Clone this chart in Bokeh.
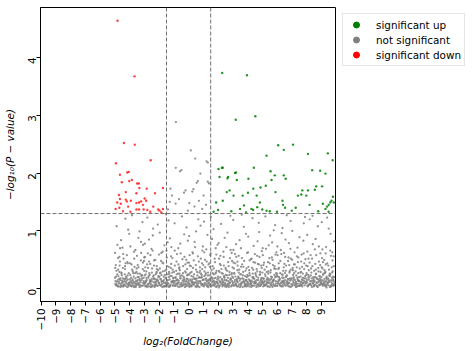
import math
from bokeh.plotting import figure
from bokeh.layouts import row
from bokeh.models import ColumnDataSource, Span, Legend, LegendItem, FixedTicker
from bokeh.embed import file_html
from bokeh.resources import INLINE

# ---------------- data ----------------
x_ticks = list(range(-10, 10))
x_tick_labels = {t: str(t).replace("-", "\u2212") for t in x_ticks}
y_ticks = [0, 1, 2, 3, 4]
y_tick_labels = {t: str(t) for t in y_ticks}
fc_threshold = 1.5
p_threshold = 1.3  # -log10(0.05)

series_names = ["significant up", "not significant", "significant down"]

down_pts = [(-4.82, 4.63), (-3.67, 3.67), (-4.39, 2.52), (-3.65, 2.49), (-4.93, 2.17), (-2.57, 2.22),
            (-4.66, 1.97), (-4.16, 2.01), (-4.06, 2.02), (-3.85, 1.88), (-4.03, 1.86), (-4.53, 1.84),
            (-3.49, 1.82), (-3.38, 1.82), (-3.34, 1.74), (-2.84, 1.73), (-2.28, 1.65), (-4.26, 1.67),
            (-3.54, 1.65), (-4.73, 1.62), (-4.66, 1.55), (-4.84, 1.49), (-4.60, 1.47), (-4.26, 1.54),
            (-4.19, 1.51), (-3.92, 1.52), (-3.54, 1.48), (-3.36, 1.49), (-3.22, 1.51), (-2.98, 1.56),
            (-2.88, 1.52), (-3.54, 1.37), (-3.36, 1.37), (-3.05, 1.37), (-2.80, 1.36), (-2.06, 1.37),
            (-1.97, 1.35), (-1.74, 1.38), (-1.74, 1.74), (-4.95, 1.38), (-4.70, 1.40), (-4.10, 1.42),
            (-3.95, 1.33), (-2.40, 1.42), (-1.85, 1.32), (-4.45, 1.34), (-3.10, 1.45), (-2.60, 1.33)]

up_pts = [(2.28, 3.73), (3.96, 3.69), (3.20, 2.92), (4.53, 2.98), (2.03, 2.07), (2.26, 2.09), (2.32, 2.09),
          (2.10, 1.93), (2.64, 1.91), (2.68, 1.93), (3.15, 2.00), (3.22, 2.01), (1.87, 1.49), (2.32, 1.52),
          (2.59, 1.67), (2.78, 1.70), (3.05, 1.61), (3.27, 1.88), (3.49, 1.38), (3.76, 1.44), (3.67, 1.61),
          (4.06, 1.90), (4.03, 1.66), (4.39, 1.73), (4.43, 2.09), (4.62, 1.61), (4.66, 1.41), (4.84, 1.49),
          (4.88, 1.75), (5.29, 2.30), (5.24, 1.78), (5.56, 2.03), (5.63, 1.88), (5.29, 1.35), (5.51, 1.34),
          (5.85, 1.96), (5.90, 1.67), (6.08, 2.48), (6.46, 2.40), (6.46, 1.96), (6.59, 1.90), (6.37, 1.52),
          (6.41, 1.45), (6.55, 1.40), (7.09, 2.49), (7.27, 1.40), (7.42, 1.61), (7.65, 1.63), (7.72, 1.70),
          (7.99, 1.61), (8.10, 2.33), (8.10, 1.70), (8.21, 1.45), (8.39, 2.05), (8.57, 1.71), (8.66, 1.77),
          (8.93, 2.04), (9.06, 1.77), (9.11, 1.47), (9.29, 1.38), (9.40, 1.42), (9.51, 1.45), (9.62, 1.49),
          (9.29, 1.99), (9.45, 2.34), (9.78, 2.22), (9.80, 1.59), (9.70, 1.52), (9.86, 1.49), (4.27, 1.38),
          (4.38, 1.36), (1.70, 1.33), (2.00, 1.36), (2.90, 1.34), (3.90, 1.32), (6.00, 1.33), (7.00, 1.35),
          (8.80, 1.34), (9.50, 1.33), (5.00, 1.37)]

ns_mid_pts = [(-0.86, 2.88), (0.15, 2.39), (0.45, 2.25), (1.22, 2.20), (1.31, 2.18), (-0.87, 2.09),
              (-0.58, 2.03), (-0.49, 2.05), (0.80, 1.99), (0.55, 1.83), (0.63, 1.86), (0.33, 1.72),
              (0.25, 1.68), (1.30, 1.85), (1.38, 1.82), (-1.23, 1.73), (-1.13, 1.61), (-1.28, 1.50),
              (-0.88, 1.47), (-0.65, 1.55), (-0.31, 1.66), (-0.21, 1.70), (1.02, 1.61), (0.05, 1.48),
              (0.40, 1.42), (0.92, 1.38), (-0.05, 1.35), (1.18, 1.45), (-1.40, 1.37), (0.70, 1.52)]

ns_pts = [
    (-4.97,0.08),(-4.91,0.21),(-4.85,0.05),(-4.78,0.33),(-4.72,0.12),(-4.66,0.47),(-4.61,0.09),(-4.55,0.26),
    (-4.49,0.71),(-4.43,0.04),(-4.38,0.17),(-4.31,0.39),(-4.26,0.11),(-4.19,0.58),(-4.14,0.23),(-4.08,0.06),
    (-4.03,0.95),(-4.99,0.62),(-4.88,1.08),(-4.81,0.15),(-4.74,0.04),(-4.69,0.29),(-4.58,0.84),(-4.52,0.14),
    (-4.46,0.36),(-4.35,0.07),(-4.29,1.21),(-4.22,0.19),(-4.12,0.44),(-4.05,0.10),(-4.94,0.41),(-4.63,0.18),
    (-4.41,0.52),(-4.17,0.03),(-4.83,0.76),(-4.57,0.06),(-4.33,0.25),(-4.10,1.02),(-4.96,0.13),(-4.70,0.55),
    (-3.98,0.16),(-3.93,0.05),(-3.87,0.42),(-3.81,0.09),(-3.76,0.27),(-3.70,0.64),(-3.64,0.12),(-3.59,0.03),
    (-3.53,0.35),(-3.47,0.20),(-3.41,0.88),(-3.36,0.07),(-3.30,0.14),(-3.24,0.49),(-3.18,0.24),(-3.13,1.15),
    (-3.07,0.06),(-3.02,0.31),(-3.95,0.73),(-3.90,0.19),(-3.84,1.27),(-3.73,0.11),(-3.67,0.38),(-3.56,0.08),
    (-3.50,0.57),(-3.44,0.15),(-3.33,0.99),(-3.27,0.04),(-3.21,0.22),(-3.10,0.45),(-3.04,0.13),(-3.79,0.30),
    (-3.61,0.67),(-3.39,0.10),(-3.15,0.18),(-3.86,0.05),(-3.46,0.26),(-3.23,0.81),(-3.68,0.04),(-3.01,0.54),
    (-2.99,0.09),(-2.94,0.37),(-2.88,0.14),(-2.83,0.05),(-2.77,0.61),(-2.71,0.22),(-2.66,0.10),(-2.60,0.43),
    (-2.55,0.03),(-2.49,0.28),(-2.43,0.92),(-2.38,0.17),(-2.32,0.06),(-2.26,0.50),(-2.21,0.12),(-2.15,0.34),
    (-2.09,1.11),(-2.04,0.20),(-2.97,0.78),(-2.91,0.25),(-2.80,1.23),(-2.74,0.08),(-2.63,0.15),(-2.52,0.69),
    (-2.46,0.04),(-2.35,0.40),(-2.29,0.11),(-2.18,0.27),(-2.12,0.05),(-2.01,0.59),(-2.86,0.19),(-2.68,0.47),
    (-2.57,0.13),(-2.41,1.04),(-2.24,0.07),(-2.07,0.32),(-2.93,0.04),(-2.69,0.85),(-2.36,0.23),(-2.14,0.16),
    (-1.98,0.21),(-1.92,0.06),(-1.87,0.48),(-1.81,0.13),(-1.75,0.30),(-1.70,0.04),(-1.64,0.75),(-1.58,0.18),
    (-1.53,0.09),(-1.47,0.39),(-1.41,0.15),(-1.36,1.18),(-1.30,0.26),(-1.24,0.05),(-1.19,0.56),(-1.13,0.11),
    (-1.08,0.33),(-1.02,0.08),(-1.96,0.97),(-1.89,0.16),(-1.78,0.03),(-1.72,0.44),(-1.61,0.24),(-1.50,0.66),
    (-1.44,0.07),(-1.33,0.29),(-1.27,0.87),(-1.16,0.12),(-1.10,0.53),(-1.04,0.19),(-1.85,0.62),(-1.67,0.10),
    (-1.55,1.29),(-1.38,0.04),(-1.21,0.36),(-1.06,0.14),(-1.94,0.27),(-1.59,0.05),(-1.42,0.80),(-1.15,0.22),
    (-0.98,0.11),(-0.93,0.40),(-0.87,0.06),(-0.81,0.25),(-0.76,0.15),(-0.70,0.70),(-0.64,0.03),(-0.59,0.32),
    (-0.53,0.18),(-0.47,0.09),(-0.42,0.51),(-0.36,0.21),(-0.30,0.94),(-0.25,0.07),(-0.19,0.28),(-0.13,0.13),
    (-0.08,0.45),(-0.02,0.05),(-0.95,1.13),(-0.90,0.19),(-0.79,0.60),(-0.73,0.10),(-0.62,0.37),(-0.51,0.04),
    (-0.45,1.25),(-0.34,0.16),(-0.28,0.55),(-0.17,0.08),(-0.11,0.23),(-0.05,0.83),(-0.84,0.31),(-0.67,0.14),
    (-0.56,0.78),(-0.39,0.06),(-0.22,0.42),(-0.07,0.17),(-0.96,0.05),(-0.61,0.26),(-0.33,0.12),(-0.14,1.06),
    (0.02,0.14),(0.07,0.58),(0.13,0.05),(0.19,0.22),(0.24,0.10),(0.30,0.36),(0.36,0.07),(0.41,0.81),
    (0.47,0.17),(0.53,0.03),(0.58,0.29),(0.64,0.12),(0.70,0.47),(0.75,0.20),(0.81,1.09),(0.87,0.06),
    (0.92,0.34),(0.98,0.15),(0.04,0.91),(0.10,0.27),(0.21,0.04),(0.27,0.63),(0.38,0.18),(0.49,0.41),
    (0.55,0.09),(0.66,1.20),(0.72,0.13),(0.83,0.52),(0.89,0.24),(0.95,0.08),(0.15,0.39),(0.33,0.11),
    (0.44,0.72),(0.61,0.05),(0.78,0.31),(0.94,0.66),(0.06,0.03),(0.26,0.16),(0.51,0.99),(0.85,0.19),
    (1.03,0.07),(1.08,0.30),(1.14,0.16),(1.20,0.68),(1.25,0.04),(1.31,0.23),(1.37,0.11),(1.42,0.44),
    (1.48,0.08),(1.54,0.19),(1.59,0.86),(1.65,0.13),(1.71,0.35),(1.76,0.05),(1.82,0.26),(1.88,0.59),
    (1.93,0.10),(1.99,0.21),(1.05,1.16),(1.11,0.50),(1.22,0.14),(1.34,0.03),(1.45,0.38),(1.51,1.24),
    (1.62,0.17),(1.68,0.07),(1.79,0.46),(1.85,0.12),(1.96,0.76),(1.17,0.27),(1.28,0.93),(1.40,0.06),
    (1.57,0.32),(1.74,0.18),(1.91,0.04),(1.00,0.41),(1.33,0.15),(1.50,0.61),(1.69,1.03),(1.86,0.28),
    (2.02,0.18),(2.08,0.05),(2.13,0.43),(2.19,0.12),(2.25,0.27),(2.30,0.08),(2.36,0.64),(2.42,0.20),
    (2.47,0.04),(2.53,0.33),(2.59,0.14),(2.64,0.97),(2.70,0.09),(2.76,0.24),(2.81,0.53),(2.87,0.16),
    (2.93,0.06),(2.98,0.37),(2.04,0.79),(2.10,0.29),(2.21,1.12),(2.33,0.11),(2.39,0.40),(2.50,0.07),
    (2.56,0.72),(2.67,0.19),(2.73,0.03),(2.84,1.26),(2.90,0.25),(2.96,0.13),(2.16,0.57),(2.28,0.15),
    (2.45,0.88),(2.62,0.31),(2.79,0.10),(2.95,0.48),(2.06,0.02),(2.40,0.22),(2.58,0.06),(2.85,0.67),
    (3.01,0.10),(3.07,0.35),(3.12,0.06),(3.18,0.21),(3.24,0.55),(3.29,0.13),(3.35,0.04),(3.41,0.28),
    (3.46,0.84),(3.52,0.17),(3.58,0.08),(3.63,0.42),(3.69,0.23),(3.75,1.07),(3.80,0.05),(3.86,0.31),
    (3.92,0.15),(3.97,0.62),(3.03,1.19),(3.09,0.26),(3.20,0.09),(3.32,0.47),(3.38,0.19),(3.49,0.03),
    (3.55,0.70),(3.66,0.12),(3.72,0.38),(3.83,0.07),(3.89,0.95),(3.95,0.20),(3.15,0.60),(3.27,0.16),
    (3.44,0.33),(3.61,1.28),(3.78,0.11),(3.94,0.04),(3.05,0.45),(3.22,0.77),(3.57,0.25),(3.85,0.14),
    (4.03,0.22),(4.08,0.08),(4.14,0.49),(4.20,0.14),(4.25,0.03),(4.31,0.36),(4.37,0.18),(4.42,0.74),
    (4.48,0.10),(4.54,0.27),(4.59,0.06),(4.65,0.57),(4.71,0.15),(4.76,1.14),(4.82,0.24),(4.88,0.05),
    (4.93,0.40),(4.99,0.12),(4.05,0.90),(4.11,0.32),(4.22,0.07),(4.34,1.22),(4.40,0.20),(4.51,0.45),
    (4.57,0.11),(4.68,0.82),(4.74,0.04),(4.85,0.29),(4.91,0.16),(4.97,0.65),(4.17,0.13),(4.28,0.52),
    (4.45,0.09),(4.62,0.34),(4.79,0.98),(4.95,0.19),(4.01,0.05),(4.35,0.26),(4.70,0.43),(4.87,0.08),
    (5.02,0.13),(5.08,0.41),(5.13,0.07),(5.19,0.25),(5.25,0.69),(5.30,0.16),(5.36,0.04),(5.42,0.30),
    (5.47,0.11),(5.53,0.92),(5.59,0.21),(5.64,0.06),(5.70,0.50),(5.76,0.14),(5.81,0.35),(5.87,1.10),
    (5.93,0.09),(5.98,0.23),(5.04,0.58),(5.10,0.18),(5.21,1.25),(5.33,0.10),(5.39,0.46),(5.50,0.03),
    (5.56,0.28),(5.67,0.80),(5.73,0.12),(5.84,0.39),(5.90,0.05),(5.96,0.63),(5.16,0.33),(5.27,0.08),
    (5.44,0.75),(5.61,0.17),(5.78,1.01),(5.94,0.27),(5.06,0.04),(5.40,0.15),(5.65,0.54),(5.88,0.20),
    (6.01,0.26),(6.07,0.09),(6.12,0.44),(6.18,0.15),(6.24,0.05),(6.29,0.60),(6.35,0.19),(6.41,0.11),
    (6.46,0.37),(6.52,0.07),(6.58,0.85),(6.63,0.22),(6.69,0.13),(6.75,0.48),(6.80,0.04),(6.86,0.30),
    (6.92,1.17),(6.97,0.16),(6.03,0.73),(6.09,0.34),(6.20,0.06),(6.32,0.96),(6.38,0.24),(6.49,0.12),
    (6.55,0.55),(6.66,1.27),(6.72,0.08),(6.83,0.41),(6.89,0.18),(6.95,0.03),(6.14,0.20),(6.26,0.67),
    (6.43,0.14),(6.60,0.31),(6.77,0.10),(6.94,0.52),(6.05,0.12),(6.37,1.05),(6.54,0.27),(6.81,0.79),
    (7.02,0.07),(7.08,0.32),(7.14,0.17),(7.19,0.63),(7.25,0.10),(7.31,0.23),(7.36,0.04),(7.42,0.46),
    (7.48,0.14),(7.53,0.89),(7.59,0.28),(7.65,0.06),(7.70,0.38),(7.76,0.19),(7.82,1.13),(7.87,0.11),
    (7.93,0.51),(7.99,0.24),(7.04,1.00),(7.10,0.13),(7.21,0.42),(7.33,0.08),(7.39,0.71),(7.50,0.20),
    (7.56,0.05),(7.67,0.59),(7.73,0.15),(7.84,0.34),(7.90,1.24),(7.96,0.09),(7.16,0.27),(7.28,0.03),
    (7.45,0.54),(7.62,0.12),(7.79,0.83),(7.95,0.18),(7.06,0.36),(7.40,0.16),(7.68,0.06),(7.85,0.44),
    (8.03,0.15),(8.09,0.06),(8.14,0.52),(8.20,0.21),(8.26,0.09),(8.31,0.35),(8.37,0.03),(8.43,0.77),
    (8.48,0.17),(8.54,0.12),(8.60,0.43),(8.65,0.26),(8.71,0.05),(8.77,1.08),(8.82,0.30),(8.88,0.14),
    (8.94,0.61),(8.99,0.08),(8.05,0.93),(8.11,0.24),(8.22,1.20),(8.34,0.13),(8.40,0.39),(8.51,0.06),
    (8.57,0.68),(8.68,0.19),(8.74,0.04),(8.85,0.47),(8.91,0.22),(8.97,0.11),(8.16,0.32),(8.28,0.58),
    (8.45,0.10),(8.62,0.86),(8.79,0.16),(8.96,0.29),(8.07,0.04),(8.41,1.26),(8.58,0.20),(8.86,0.07),
    (9.02,0.20),(9.07,0.08),(9.12,0.46),(9.17,0.13),(9.23,0.32),(9.28,0.05),(9.33,0.72),(9.38,0.17),
    (9.43,0.10),(9.48,0.40),(9.54,0.23),(9.59,0.03),(9.64,0.95),(9.69,0.15),(9.74,0.28),(9.79,0.07),
    (9.84,0.56),(9.89,0.12),(9.04,1.15),(9.09,0.35),(9.19,0.06),(9.30,0.61),(9.35,0.19),(9.46,0.11),
    (9.51,1.04),(9.62,0.25),(9.67,0.04),(9.77,0.49),(9.82,0.16),(9.87,0.82),(9.14,0.09),(9.25,0.27),
    (9.40,1.23),(9.56,0.14),(9.71,0.37),(9.86,0.06),(9.05,0.53),(9.36,0.02),(9.61,0.66),(9.80,0.21),
]

ns_low_pts = [
    (-4.99,0.19),(-4.93,0.06),(-4.90,0.31),(-4.86,0.12),(-4.80,0.04),(-4.77,0.22),(-4.73,0.09),(-4.68,0.40),
    (-4.64,0.15),(-4.60,0.05),(-4.56,0.28),(-4.51,0.10),(-4.47,0.18),(-4.44,0.60),(-4.40,0.07),(-4.36,0.13),
    (-4.32,0.34),(-4.27,0.05),(-4.24,0.21),(-4.20,0.09),(-4.16,0.46),(-4.13,0.16),(-4.09,0.04),(-4.06,0.27),
    (-4.02,0.11),(-4.98,0.36),(-4.89,0.08),(-4.79,0.53),(-4.71,0.17),(-4.62,0.03),(-4.53,0.23),(-4.45,0.12),
    (-4.37,0.06),(-4.28,0.44),(-4.21,0.14),(-4.11,0.08),(-4.84,0.25),(-4.65,0.70),(-4.48,0.04),(-4.30,0.17),
    (-3.99,0.07),(-3.96,0.24),(-3.91,0.13),(-3.88,0.04),(-3.83,0.33),(-3.80,0.16),(-3.77,0.06),(-3.72,0.21),
    (-3.69,0.52),(-3.65,0.09),(-3.62,0.18),(-3.57,0.05),(-3.54,0.29),(-3.51,0.12),(-3.45,0.41),(-3.42,0.07),
    (-3.38,0.20),(-3.34,0.03),(-3.31,0.26),(-3.26,0.11),(-3.22,0.62),(-3.19,0.15),(-3.16,0.05),(-3.11,0.34),
    (-3.08,0.10),(-3.05,0.19),(-3.03,0.48),(-3.97,0.44),(-3.89,0.10),(-3.78,0.14),(-3.71,0.03),(-3.63,0.27),
    (-3.55,0.14),(-3.48,0.08),(-3.40,0.37),(-3.32,0.17),(-3.25,0.06),(-3.17,0.23),(-3.09,0.76),(-3.00,0.09),
    (-2.98,0.23),(-2.95,0.10),(-2.92,0.05),(-2.87,0.30),(-2.84,0.15),(-2.81,0.42),(-2.78,0.07),(-2.73,0.19),
    (-2.70,0.04),(-2.67,0.27),(-2.62,0.12),(-2.59,0.58),(-2.56,0.08),(-2.51,0.17),(-2.48,0.35),(-2.45,0.06),
    (-2.42,0.21),(-2.37,0.11),(-2.34,0.49),(-2.31,0.03),(-2.27,0.16),(-2.23,0.25),(-2.20,0.08),(-2.16,0.39),
    (-2.13,0.13),(-2.10,0.05),(-2.05,0.22),(-2.02,0.10),(-2.96,0.55),(-2.89,0.12),(-2.82,0.03),(-2.75,0.36),
    (-2.64,0.24),(-2.58,0.04),(-2.50,0.13),(-2.44,0.66),(-2.33,0.18),(-2.25,0.05),(-2.17,0.29),(-2.08,0.14),
    (-1.99,0.10),(-1.95,0.35),(-1.91,0.17),(-1.88,0.05),(-1.84,0.24),(-1.80,0.08),(-1.77,0.45),(-1.73,0.13),
    (-1.69,0.21),(-1.66,0.04),(-1.62,0.31),(-1.57,0.11),(-1.54,0.19),(-1.51,0.06),(-1.48,0.54),(-1.45,0.14),
    (-1.40,0.25),(-1.37,0.09),(-1.34,0.38),(-1.31,0.03),(-1.28,0.16),(-1.25,0.22),(-1.22,0.07),(-1.18,0.43),
    (-1.14,0.12),(-1.11,0.28),(-1.07,0.05),(-1.03,0.18),(-1.97,0.07),(-1.90,0.28),(-1.83,0.12),(-1.76,0.64),
    (-1.68,0.15),(-1.60,0.04),(-1.52,0.33),(-1.43,0.10),(-1.35,0.20),(-1.26,0.05),(-1.17,0.72),(-1.09,0.13),
    (-0.99,0.29),(-0.96,0.13),(-0.92,0.05),(-0.88,0.20),(-0.85,0.09),(-0.82,0.47),(-0.78,0.16),(-0.74,0.04),
    (-0.71,0.26),(-0.68,0.11),(-0.65,0.35),(-0.60,0.07),(-0.57,0.18),(-0.54,0.61),(-0.50,0.10),(-0.46,0.23),
    (-0.43,0.05),(-0.40,0.14),(-0.37,0.39),(-0.32,0.08),(-0.29,0.19),(-0.26,0.03),(-0.23,0.30),(-0.20,0.12),
    (-0.16,0.50),(-0.12,0.17),(-0.09,0.06),(-0.04,0.25),(-0.01,0.11),(-0.94,0.66),(-0.86,0.14),(-0.77,0.08),
    (-0.69,0.42),(-0.58,0.22),(-0.48,0.06),(-0.38,0.27),(-0.27,0.15),(-0.18,0.04),(-0.10,0.34),(-0.03,0.09),
    (0.01,0.24),(0.05,0.09),(0.09,0.40),(0.12,0.16),(0.16,0.05),(0.20,0.29),(0.23,0.12),(0.28,0.07),
    (0.31,0.21),(0.35,0.49),(0.39,0.10),(0.42,0.17),(0.46,0.04),(0.50,0.33),(0.54,0.14),(0.57,0.06),
    (0.60,0.23),(0.63,0.56),(0.67,0.09),(0.71,0.19),(0.74,0.03),(0.77,0.37),(0.80,0.13),(0.84,0.26),
    (0.88,0.08),(0.91,0.44),(0.96,0.15),(0.99,0.05),(0.03,0.45),(0.11,0.07),(0.18,0.13),(0.29,0.61),
    (0.37,0.25),(0.48,0.11),(0.56,0.18),(0.65,0.04),(0.73,0.28),(0.82,0.10),(0.90,0.20),(0.97,0.73),
    (1.01,0.16),(1.04,0.04),(1.07,0.22),(1.10,0.10),(1.13,0.37),(1.16,0.07),(1.19,0.18),(1.23,0.47),
    (1.26,0.12),(1.30,0.05),(1.32,0.28),(1.36,0.15),(1.39,0.09),(1.43,0.23),(1.46,0.58),(1.49,0.14),
    (1.53,0.04),(1.56,0.20),(1.60,0.11),(1.63,0.39),(1.66,0.06),(1.70,0.25),(1.73,0.13),(1.77,0.52),
    (1.80,0.08),(1.83,0.19),(1.87,0.03),(1.90,0.31),(1.94,0.12),(1.98,0.06),(1.06,0.63),(1.15,0.24),
    (1.24,0.08),(1.35,0.42),(1.44,0.17),(1.55,0.05),(1.64,0.27),(1.75,0.10),(1.84,0.70),(1.95,0.16),
    (2.01,0.09),(2.05,0.31),(2.09,0.14),(2.12,0.05),(2.15,0.20),(2.18,0.41),(2.22,0.08),(2.26,0.17),
    (2.29,0.04),(2.32,0.26),(2.35,0.12),(2.38,0.55),(2.41,0.07),(2.44,0.19),(2.48,0.10),(2.51,0.36),
    (2.55,0.15),(2.57,0.03),(2.61,0.23),(2.65,0.08),(2.68,0.46),(2.71,0.13),(2.75,0.06),(2.78,0.29),
    (2.82,0.11),(2.86,0.18),(2.89,0.04),(2.92,0.62),(2.97,0.21),(2.99,0.07),(2.07,0.52),(2.14,0.11),
    (2.23,0.34),(2.34,0.06),(2.43,0.15),(2.52,0.24),(2.63,0.05),(2.72,0.39),(2.83,0.16),(2.94,0.27),
    (3.02,0.19),(3.06,0.05),(3.10,0.27),(3.13,0.12),(3.17,0.44),(3.21,0.08),(3.25,0.16),(3.28,0.04),
    (3.31,0.32),(3.34,0.11),(3.37,0.21),(3.40,0.57),(3.43,0.07),(3.47,0.14),(3.50,0.25),(3.54,0.05),
    (3.56,0.38),(3.60,0.10),(3.64,0.18),(3.67,0.03),(3.70,0.29),(3.74,0.13),(3.77,0.48),(3.81,0.09),
    (3.84,0.22),(3.87,0.06),(3.91,0.15),(3.93,0.35),(3.96,0.08),(3.99,0.24),(3.04,0.67),(3.14,0.15),
    (3.23,0.06),(3.33,0.40),(3.42,0.18),(3.53,0.09),(3.62,0.53),(3.73,0.17),(3.82,0.04),(3.98,0.12),
    (4.02,0.11),(4.06,0.38),(4.09,0.16),(4.12,0.04),(4.16,0.23),(4.19,0.09),(4.23,0.51),(4.27,0.14),
    (4.30,0.06),(4.33,0.20),(4.36,0.12),(4.39,0.33),(4.43,0.05),(4.46,0.17),(4.50,0.60),(4.53,0.10),
    (4.56,0.24),(4.60,0.03),(4.63,0.15),(4.66,0.30),(4.69,0.08),(4.73,0.19),(4.77,0.42),(4.80,0.11),
    (4.83,0.05),(4.86,0.25),(4.89,0.14),(4.92,0.07),(4.96,0.36),(4.98,0.18),(4.04,0.63),(4.13,0.27),
    (4.24,0.10),(4.32,0.05),(4.41,0.46),(4.52,0.13),(4.61,0.21),(4.72,0.07),(4.81,0.55),(4.94,0.10),
    (5.01,0.28),(5.05,0.09),(5.09,0.17),(5.12,0.45),(5.15,0.05),(5.18,0.13),(5.22,0.22),(5.26,0.07),
    (5.29,0.38),(5.32,0.12),(5.35,0.19),(5.38,0.04),(5.41,0.26),(5.45,0.10),(5.48,0.53),(5.52,0.15),
    (5.55,0.06),(5.58,0.32),(5.62,0.11),(5.66,0.20),(5.69,0.03),(5.72,0.41),(5.75,0.08),(5.79,0.16),
    (5.82,0.24),(5.85,0.06),(5.89,0.59),(5.92,0.13),(5.95,0.21),(5.99,0.05),(5.03,0.70),(5.11,0.11),
    (5.20,0.06),(5.31,0.29),(5.43,0.17),(5.51,0.44),(5.60,0.08),(5.71,0.14),(5.80,0.05),(5.91,0.34),
    (6.02,0.05),(6.06,0.21),(6.10,0.12),(6.13,0.36),(6.16,0.08),(6.19,0.17),(6.23,0.48),(6.27,0.10),
    (6.30,0.04),(6.33,0.25),(6.36,0.13),(6.39,0.07),(6.42,0.31),(6.45,0.19),(6.48,0.62),(6.51,0.09),
    (6.56,0.15),(6.59,0.05),(6.62,0.40),(6.65,0.11),(6.68,0.23),(6.71,0.06),(6.74,0.17),(6.78,0.54),
    (6.82,0.10),(6.84,0.28),(6.87,0.04),(6.90,0.14),(6.93,0.33),(6.98,0.08),(6.04,0.58),(6.11,0.15),
    (6.22,0.27),(6.31,0.11),(6.40,0.04),(6.50,0.43),(6.61,0.20),(6.70,0.09),(6.79,0.16),(6.91,0.69),
    (7.01,0.18),(7.05,0.05),(7.09,0.24),(7.12,0.10),(7.15,0.42),(7.18,0.07),(7.22,0.15),(7.26,0.30),
    (7.29,0.12),(7.32,0.04),(7.35,0.56),(7.38,0.19),(7.41,0.09),(7.44,0.27),(7.47,0.05),(7.51,0.13),
    (7.54,0.35),(7.57,0.08),(7.61,0.21),(7.64,0.47),(7.66,0.11),(7.69,0.16),(7.72,0.04),(7.75,0.26),
    (7.78,0.10),(7.81,0.61),(7.83,0.14),(7.88,0.06),(7.91,0.22),(7.97,0.12),(7.03,0.50),(7.13,0.20),
    (7.23,0.06),(7.34,0.37),(7.43,0.14),(7.52,0.05),(7.63,0.29),(7.74,0.09),(7.86,0.18),(7.98,0.40),
    (8.01,0.27),(8.04,0.11),(8.08,0.39),(8.12,0.05),(8.15,0.16),(8.18,0.08),(8.21,0.45),(8.25,0.13),
    (8.29,0.23),(8.32,0.06),(8.35,0.18),(8.38,0.52),(8.42,0.09),(8.46,0.20),(8.49,0.04),(8.52,0.31),
    (8.55,0.14),(8.59,0.07),(8.63,0.25),(8.66,0.58),(8.69,0.10),(8.72,0.17),(8.76,0.03),(8.80,0.36),
    (8.83,0.12),(8.87,0.22),(8.90,0.06),(8.93,0.41),(8.95,0.15),(8.98,0.09),(8.06,0.64),(8.13,0.19),
    (8.24,0.07),(8.33,0.28),(8.44,0.14),(8.53,0.05),(8.64,0.33),(8.73,0.11),(8.84,0.73),(8.92,0.18),
    (9.01,0.12),(9.03,0.37),(9.06,0.15),(9.10,0.05),(9.13,0.24),(9.16,0.09),(9.20,0.50),(9.22,0.17),
    (9.26,0.07),(9.29,0.29),(9.32,0.13),(9.34,0.04),(9.37,0.21),(9.41,0.44),(9.44,0.10),(9.47,0.18),
    (9.50,0.06),(9.53,0.33),(9.57,0.12),(9.60,0.22),(9.63,0.04),(9.66,0.57),(9.70,0.11),(9.73,0.19),
    (9.76,0.08),(9.78,0.30),(9.81,0.14),(9.83,0.05),(9.85,0.39),(9.88,0.20),(9.08,0.68),(9.15,0.26),
    (9.24,0.11),(9.31,0.42),(9.39,0.07),(9.49,0.15),(9.58,0.26),(9.68,0.06),(9.75,0.63),(9.90,0.09),
]

# ---------------- figure ----------------
FONT = "DejaVu Sans"
FS = "10.4px"

p = figure(width=336, height=351, output_backend="svg", toolbar_location=None,
           x_range=(-10.05, 9.97), y_range=(-0.22, 4.86),
           min_border_left=38, min_border_right=1, min_border_top=7, min_border_bottom=50)
p.background_fill_color = "white"
p.border_fill_color = "white"
p.outline_line_color = "black"
p.outline_line_width = 1
p.grid.visible = False

def make_src(pts):
    return ColumnDataSource(dict(x=[a for a, b in pts], y=[b for a, b in pts]))

all_ns = ns_pts + ns_low_pts + ns_mid_pts
p.scatter("x", "y", source=make_src(all_ns), size=2.3, color="#808080", alpha=0.85, line_width=0)
p.scatter("x", "y", source=make_src(down_pts), size=2.4, color="#ff0000", alpha=0.75, line_width=0)
p.scatter("x", "y", source=make_src(up_pts), size=2.4, color="#008000", alpha=0.85, line_width=0)

for loc, dim in [(-fc_threshold, "height"), (fc_threshold, "height"), (p_threshold, "width")]:
    p.add_layout(Span(location=loc, dimension=dim, line_color="#707070", line_width=1, line_dash="4 2"))

# axes
for ax in (p.xaxis, p.yaxis):
    ax.axis_line_color = "black"
    ax.major_tick_line_color = "black"
    ax.minor_tick_line_color = None
    ax.major_tick_out = 4
    ax.major_tick_in = 0
    ax.major_label_text_font = FONT
    ax.major_label_text_font_size = FS
    ax.major_label_text_color = "black"
    ax.axis_label_text_font = FONT
    ax.axis_label_text_font_size = FS
    ax.axis_label_text_font_style = "italic"
    ax.axis_label_text_color = "black"

p.xaxis.ticker = FixedTicker(ticks=x_ticks)
p.xaxis.major_label_overrides = x_tick_labels
p.xaxis.major_label_orientation = math.pi / 2
p.xaxis.major_label_standoff = 3
p.xaxis.axis_label = "log\u2082(FoldChange)"
p.xaxis.axis_label_standoff = 2

p.yaxis.ticker = FixedTicker(ticks=y_ticks)
p.yaxis.major_label_overrides = y_tick_labels
p.yaxis.major_label_orientation = math.pi / 2
p.yaxis.major_label_standoff = 4
p.yaxis.axis_label = "\u2212log\u2081\u2080(P \u2212 value)"
p.yaxis.axis_label_standoff = 6

# ---------------- legend panel ----------------
lp = figure(width=138, height=351, output_backend="svg", toolbar_location=None,
            x_range=(0, 1), y_range=(0, 1), x_axis_location=None, y_axis_location=None,
            min_border_left=0, min_border_right=0, min_border_top=7, min_border_bottom=0)
lp.title.visible = False
lp.outline_line_color = None
lp.grid.visible = False
lp.background_fill_color = "white"
lp.border_fill_color = "white"

colors = ["#008000", "#808080", "#ff0000"]
items = []
for name, c in zip(series_names, colors):
    # proxy renderer: one point placed outside the (0, 1) view, so only its legend glyph shows
    r = lp.scatter(x=[-5], y=[-5], color=c, size=8)
    items.append(LegendItem(label=name, renderers=[r]))
legend = Legend(items=items, location="top_left", orientation="vertical",
                glyph_width=20, glyph_height=15, label_height=15, spacing=0, padding=3, margin=6,
                label_standoff=10, label_text_font=FONT, label_text_font_size=FS, label_text_color="black",
                border_line_color="#cccccc", border_line_width=1, background_fill_color="white",
                background_fill_alpha=1.0)
lp.add_layout(legend, "center")

layout = row(p, lp, spacing=0)
open("out.html", "w").write(file_html(layout, INLINE))
